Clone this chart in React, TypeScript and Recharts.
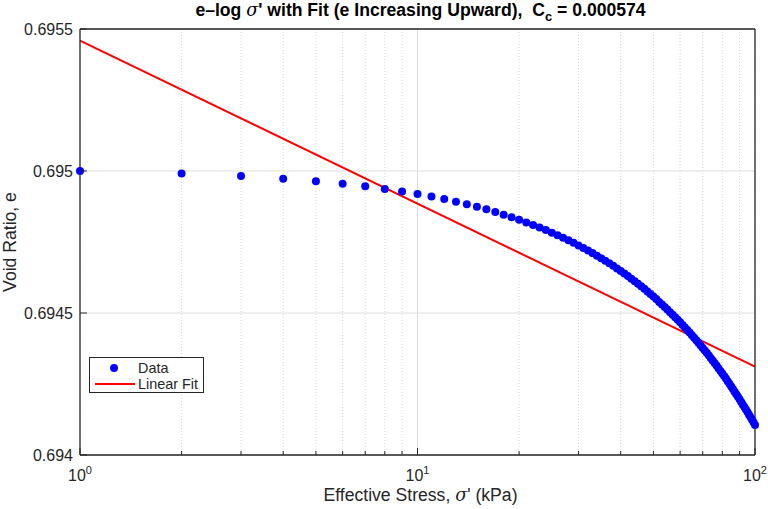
import React from 'react';
import { ComposedChart, Scatter, Line, XAxis, YAxis, CartesianGrid, Legend, ReferenceLine } from 'recharts';

// Effective stress steps (kPa)
const stressKPa = [
  1, 2, 3, 4, 5, 6, 7, 8, 9, 10,
  11, 12, 13, 14, 15, 16, 17, 18, 19, 20,
  21, 22, 23, 24, 25, 26, 27, 28, 29, 30,
  31, 32, 33, 34, 35, 36, 37, 38, 39, 40,
  41, 42, 43, 44, 45, 46, 47, 48, 49, 50,
  51, 52, 53, 54, 55, 56, 57, 58, 59, 60,
  61, 62, 63, 64, 65, 66, 67, 68, 69, 70,
  71, 72, 73, 74, 75, 76, 77, 78, 79, 80,
  81, 82, 83, 84, 85, 86, 87, 88, 89, 90,
  91, 92, 93, 94, 95, 96, 97, 98, 99, 100,
];

// Measured void ratio at each stress step
const voidRatio = [
  0.695000, 0.694991, 0.694982, 0.694973, 0.694964, 0.694955, 0.694946, 0.694937, 0.694928, 0.694919,
  0.694910, 0.694901, 0.694892, 0.694883, 0.694874, 0.694865, 0.694856, 0.694846, 0.694837, 0.694828,
  0.694819, 0.694810, 0.694801, 0.694792, 0.694783, 0.694774, 0.694765, 0.694756, 0.694747, 0.694738,
  0.694729, 0.694720, 0.694711, 0.694702, 0.694693, 0.694684, 0.694675, 0.694666, 0.694657, 0.694648,
  0.694639, 0.694630, 0.694621, 0.694612, 0.694603, 0.694594, 0.694585, 0.694576, 0.694567, 0.694558,
  0.694549, 0.694539, 0.694530, 0.694521, 0.694512, 0.694503, 0.694494, 0.694485, 0.694476, 0.694467,
  0.694458, 0.694449, 0.694440, 0.694431, 0.694422, 0.694413, 0.694404, 0.694395, 0.694386, 0.694377,
  0.694368, 0.694359, 0.694350, 0.694341, 0.694332, 0.694323, 0.694314, 0.694305, 0.694296, 0.694287,
  0.694278, 0.694269, 0.694260, 0.694251, 0.694241, 0.694232, 0.694223, 0.694214, 0.694205, 0.694196,
  0.694187, 0.694178, 0.694169, 0.694160, 0.694151, 0.694142, 0.694133, 0.694124, 0.694115, 0.694106,
];

// Linear fit of e against log10(stress): slope -Cc per decade
const fitStressKPa = [1, 100];
const fitVoidRatio = [0.695459, 0.694311];

const majorStressTicks = [1, 10, 100];
const stressTicks = [1, 2, 3, 4, 5, 6, 7, 8, 9, 10, 20, 30, 40, 50, 60, 70, 80, 90, 100];
const ratioTicks = [0.694, 0.6945, 0.695, 0.6955];

const ccValue = '0.000574';

const FONT = '"Liberation Sans", Arial, Helvetica, sans-serif';
const SYMBOL_FONT = '"DejaVu Serif", "Liberation Serif", serif';
const INK = '#262626';
const MAJOR_TICK = 7;
const MINOR_TICK = 4;
const MARKER_R = 4;

const points = stressKPa.map((s, i) => ({ stress: s, ratio: voidRatio[i] }));
const fitPoints = fitStressKPa.map((s, i) => ({ stress: s, fit: fitVoidRatio[i] }));

const isDecade = (v: number) => majorStressTicks.includes(v);

// Bottom axis: inward tick marks plus 10^n labels at each decade
const BottomTick = (props: any) => {
  const { x, y, payload } = props;
  const v = payload.value;
  const major = isDecade(v);
  return (
    <g>
      <line x1={x} y1={y} x2={x} y2={y - (major ? MAJOR_TICK : MINOR_TICK)} stroke={INK} strokeWidth={1} />
      {major && (
        <text x={x} y={y + 26} textAnchor="middle" fill={INK} fontSize={16} fontFamily={FONT}>
          10
          <tspan dy={-7} fontSize={11}>{Math.round(Math.log10(v))}</tspan>
        </text>
      )}
    </g>
  );
};

const TopTick = (props: any) => {
  const { x, y, payload } = props;
  const major = isDecade(payload.value);
  return <line x1={x} y1={y} x2={x} y2={y + (major ? MAJOR_TICK : MINOR_TICK)} stroke={INK} strokeWidth={1} />;
};

const LeftTick = (props: any) => {
  const { x, y, payload } = props;
  return (
    <g>
      <line x1={x} y1={y} x2={x + MAJOR_TICK} y2={y} stroke={INK} strokeWidth={1} />
      <text x={x - 7} y={y} dy={5.5} textAnchor="end" fill={INK} fontSize={16} fontFamily={FONT}>
        {String(payload.value)}
      </text>
    </g>
  );
};

const RightTick = (props: any) => {
  const { x, y } = props;
  return <line x1={x} y1={y} x2={x - MAJOR_TICK} y2={y} stroke={INK} strokeWidth={1} />;
};

const ChartTitle = (props: any) => {
  const vb = props.viewBox || { x: 80, y: 28, width: 675, height: 1 };
  return (
    <text
      x={vb.x + vb.width / 2 + 3}
      y={vb.y + vb.height - 13}
      textAnchor="middle"
      fill="#000"
      fontSize={17.6}
      fontWeight="bold"
      fontFamily={FONT}
      style={{ whiteSpace: 'pre' }}
    >
      {'e\u2013log '}
      <tspan fontFamily={SYMBOL_FONT} fontStyle="italic" fontWeight="normal">σ</tspan>
      <tspan>{"' with Fit (e Increasing Upward),  C"}</tspan>
      <tspan dy={5} fontSize={13}>c</tspan>
      <tspan dy={-5}>{' = ' + ccValue}</tspan>
    </text>
  );
};

const XTitle = (props: any) => {
  const vb = props.viewBox || { x: 80, y: 455, width: 675 };
  return (
    <text x={vb.x + vb.width / 2 + 3} y={vb.y + 46} textAnchor="middle" fill={INK} fontSize={17.6} fontFamily={FONT} style={{ whiteSpace: 'pre' }}>
      {'Effective Stress, '}
      <tspan fontFamily={SYMBOL_FONT} fontStyle="italic">σ</tspan>
      <tspan>{"' (kPa)"}</tspan>
    </text>
  );
};

const YTitle = (props: any) => {
  const vb = props.viewBox || { x: 0, y: 29, height: 426 };
  const cx = 15.5;
  const cy = vb.y + vb.height / 2;
  return (
    <text
      x={cx}
      y={cy}
      transform={`rotate(-90 ${cx} ${cy})`}
      textAnchor="middle"
      fill={INK}
      fontSize={17.6}
      fontFamily={FONT}
    >
      Void Ratio, e
    </text>
  );
};

const LegendBox = (props: any) => {
  const payload = props.payload || [];
  return (
    <div
      style={{
        width: 115,
        height: 36,
        boxSizing: 'border-box',
        border: `1px solid ${INK}`,
        background: '#fff',
        position: 'relative',
        fontFamily: FONT,
        fontSize: 14.4,
        color: INK,
      }}
    >
      {payload.map((entry: any, i: number) => (
        <div
          key={entry.value}
          style={{ position: 'absolute', left: 0, top: 2 + i * 16, height: 16, display: 'flex', alignItems: 'center' }}
        >
          <svg width={48} height={16} style={{ display: 'block' }}>
            {entry.type === 'line' ? (
              <line x1={5} y1={8} x2={45} y2={8} stroke={entry.color} strokeWidth={2} />
            ) : (
              <circle cx={24} cy={8} r={MARKER_R} fill={entry.color} />
            )}
          </svg>
          <span style={{ lineHeight: '16px' }}>{entry.value}</span>
        </div>
      ))}
    </div>
  );
};

const Dot = (props: any) => {
  const { cx, cy, fill } = props;
  return <circle cx={cx} cy={cy} r={MARKER_R} fill={fill} />;
};

export default function App() {
  return (
    <div style={{ position: 'absolute', left: 0, top: 0, width: 768, height: 509, background: '#fff' }}>
      <ComposedChart width={768} height={509} margin={{ top: 28, right: 12, bottom: 0, left: 0 }}>
        {/* dotted minor grid across the log axis */}
        <CartesianGrid
          xAxisId="bottom"
          yAxisId="left"
          horizontal={false}
          stroke="#d4d4d4"
          strokeDasharray="1 2"
        />
        {/* solid major grid */}
        <CartesianGrid xAxisId="bottom" yAxisId="left" vertical={false} stroke="#dedede" />
        <ReferenceLine xAxisId="bottom" yAxisId="left" x={10} stroke="#dedede" strokeWidth={1} />
        <XAxis
          xAxisId="bottom"
          type="number"
          dataKey="stress"
          scale="log"
          domain={[1, 100]}
          ticks={stressTicks}
          interval={0}
          height={54}
          axisLine={{ stroke: INK, strokeWidth: 1.3 }}
          tickLine={false}
          tickSize={0}
          tickMargin={0}
          tick={<BottomTick />}
          label={<XTitle />}
        />
        <XAxis
          xAxisId="top"
          orientation="top"
          type="number"
          dataKey="stress"
          scale="log"
          domain={[1, 100]}
          ticks={stressTicks}
          interval={0}
          height={1}
          axisLine={{ stroke: INK, strokeWidth: 1.3 }}
          tickLine={false}
          tickSize={0}
          tickMargin={0}
          tick={<TopTick />}
          label={<ChartTitle />}
        />
        <YAxis
          yAxisId="left"
          type="number"
          domain={[0.694, 0.6955]}
          ticks={ratioTicks}
          interval={0}
          width={80}
          axisLine={{ stroke: INK, strokeWidth: 1.3 }}
          tickLine={false}
          tickSize={0}
          tickMargin={0}
          tick={<LeftTick />}
          label={<YTitle />}
        />
        <YAxis
          yAxisId="right"
          orientation="right"
          type="number"
          domain={[0.694, 0.6955]}
          ticks={ratioTicks}
          interval={0}
          width={1}
          axisLine={{ stroke: INK, strokeWidth: 1.3 }}
          tickLine={false}
          tickSize={0}
          tickMargin={0}
          tick={<RightTick />}
        />
        <Scatter
          xAxisId="bottom"
          yAxisId="left"
          name="Data"
          data={points}
          dataKey="ratio"
          fill="#0000ff"
          shape={<Dot />}
          isAnimationActive={false}
        />
        <Line
          xAxisId="bottom"
          yAxisId="left"
          name="Linear Fit"
          data={fitPoints}
          dataKey="fit"
          type="linear"
          stroke="#ff0000"
          strokeWidth={2}
          dot={false}
          legendType="line"
          isAnimationActive={false}
        />
        <Legend
          layout="vertical"
          align="center"
          verticalAlign="middle"
          content={<LegendBox />}
          wrapperStyle={{ left: 89, top: 357, width: 115, height: 36 }}
        />
      </ComposedChart>
    </div>
  );
}
